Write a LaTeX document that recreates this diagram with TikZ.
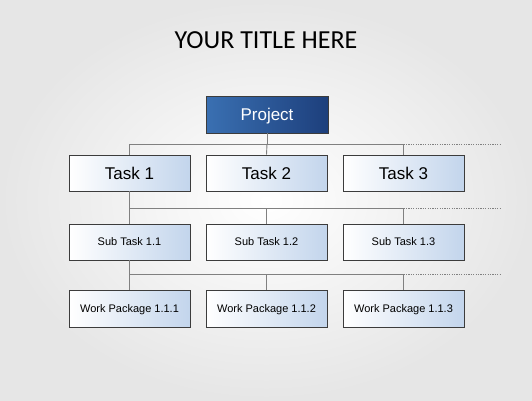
\documentclass[tikz,border=0pt]{standalone}
\usepackage{fontspec}
\setmainfont{Liberation Sans}
\newfontfamily\titlefont{Carlito}
\definecolor{bgedge}{HTML}{E6E6E6}
\definecolor{boxblue}{HTML}{C3D5EC}
\definecolor{projlight}{HTML}{3A70B2}
\definecolor{projdark}{HTML}{1D3F7C}
\definecolor{boxedge}{HTML}{3C3C3C}
\definecolor{linegray}{HTML}{808080}
\tikzset{
  taskbox/.style={draw=boxedge, line width=0.9pt, left color=white, right color=boxblue,
    minimum width=121pt, inner sep=0pt, text=black},
  bigtask/.style={taskbox, minimum height=36pt, font=\fontsize{17}{20}\selectfont,
    text height=12.2pt, text depth=0pt},
  smalltask/.style={taskbox, minimum height=36pt, font=\fontsize{11}{13}\selectfont,
    text height=7.9pt, text depth=0pt},
  projbox/.style={draw=boxedge, line width=0.9pt, left color=projlight, right color=projdark,
    minimum width=122pt, minimum height=37pt, inner sep=0pt, text=white, font=\fontsize{17}{20}\selectfont,
    text height=12.2pt, text depth=0pt},
  conn/.style={draw=linegray, line width=0.9pt},
  ext/.style={draw=linegray, line width=0.9pt, dash pattern=on 1.2pt off 1.2pt}
}
\begin{document}
\begin{tikzpicture}[x=1pt,y=-1pt]
\useasboundingbox (0,0) rectangle (532,400);
\shade[inner color=white, outer color=bgedge] (0,0) rectangle (532,400);

\node[font=\titlefont\fontsize{26}{30}\selectfont, text=black] (title) at (266,40) {YOUR TITLE HERE};

\node[projbox] (p) at (267,114.5) {Project};

\node[bigtask] (t1) at (129.5,173) {Task 1};
\node[bigtask] (t2) at (266.5,173) {Task 2};
\node[bigtask] (t3) at (403.5,173) {Task 3};

\node[smalltask] (s1) at (129.5,242) {Sub Task 1.1};
\node[smalltask] (s2) at (266.5,242) {Sub Task 1.2};
\node[smalltask] (s3) at (403.5,242) {Sub Task 1.3};

\node[smalltask, minimum height=37pt] (w1) at (129.5,308.5) {Work Package 1.1.1};
\node[smalltask, minimum height=37pt] (w2) at (266.5,308.5) {Work Package 1.1.2};
\node[smalltask, minimum height=37pt] (w3) at (403.5,308.5) {Work Package 1.1.3};

% bus coordinates
\coordinate (b1l) at (129.5,144);
\coordinate (b1m) at (267,144);
\coordinate (b1r) at (403.5,144);
\coordinate (b1e) at (500,144);
\coordinate (b2l) at (129.5,208);
\coordinate (b2m) at (266.5,208);
\coordinate (b2r) at (403.5,208);
\coordinate (b2e) at (500,208);
\coordinate (b3l) at (129.5,274);
\coordinate (b3m) at (266.5,274);
\coordinate (b3r) at (403.5,274);
\coordinate (b3e) at (500,274);

% level 1
\draw[conn] (p.south) -- (b1m);
\draw[conn] (b1l) -- (b1r);
\draw[ext] (b1r) -- (b1e);
\draw[conn] (b1l) -- (t1.north);
\draw[conn] (b1m) -- (t2.north);
\draw[conn] (b1r) -- (t3.north);

% level 2
\draw[conn] (t1.south) -- (s1.north);
\draw[conn] (b2l) -- (b2r);
\draw[ext] (b2r) -- (b2e);
\draw[conn] (b2m) -- (s2.north);
\draw[conn] (b2r) -- (s3.north);

% level 3
\draw[conn] (s1.south) -- (w1.north);
\draw[conn] (b3l) -- (b3r);
\draw[ext] (b3r) -- (b3e);
\draw[conn] (b3m) -- (w2.north);
\draw[conn] (b3r) -- (w3.north);
\end{tikzpicture}
\end{document}
